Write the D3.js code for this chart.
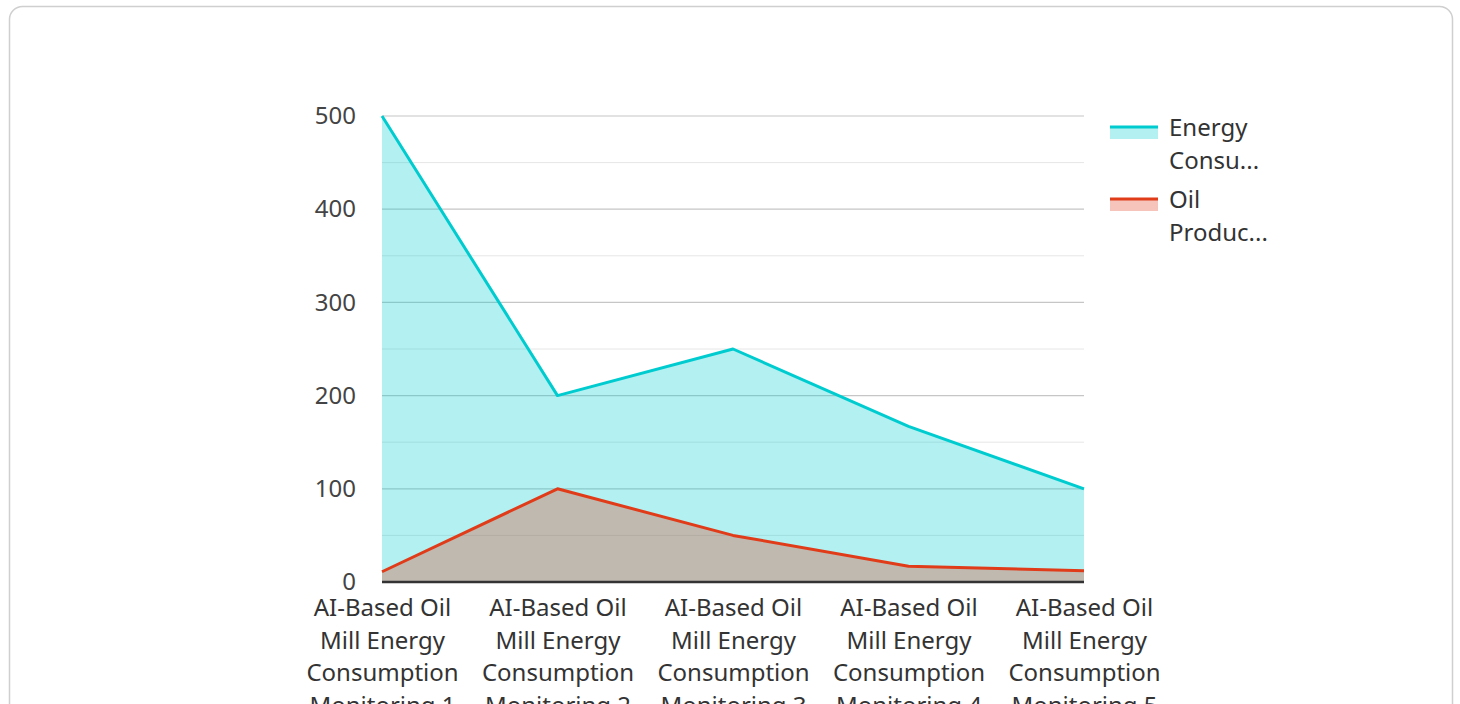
<!DOCTYPE html>
<html>
<head>
<meta charset="utf-8">
<script src="https://cdn.jsdelivr.net/npm/d3@7"></script>
<style>
  html, body { margin: 0; padding: 0; background: #fff; }
  body { width: 1460px; height: 704px; overflow: hidden; }
  svg { display: block; font-family: "Noto Sans", "Open Sans", sans-serif; }
</style>
</head>
<body>
<svg id="chart" width="1460" height="704"></svg>
<script>
// Monitoring runs along the x axis
const categories = [
  "AI-Based Oil Mill Energy Consumption Monitoring 1",
  "AI-Based Oil Mill Energy Consumption Monitoring 2",
  "AI-Based Oil Mill Energy Consumption Monitoring 3",
  "AI-Based Oil Mill Energy Consumption Monitoring 4",
  "AI-Based Oil Mill Energy Consumption Monitoring 5"
];
const seriesNames = ["Energy Consumption", "Oil Production"];
const energyConsumption = [500, 200, 250, 167, 100];
const oilProduction = [11, 100, 50, 17, 12];
const yTicks = [0, 100, 200, 300, 400, 500];
const colors = ["#00ccd0", "#e03c1a"];

const FONT = 24;
const svg = d3.select("#chart");

// card outline
svg.append("rect")
  .attr("x", 9.5).attr("y", 6.5)
  .attr("width", 1443).attr("height", 740)
  .attr("rx", 13).attr("ry", 13)
  .attr("fill", "#fff").attr("stroke", "#cfcfcf").attr("stroke-width", 1.5);

const plot = { left: 382, right: 1084, top: 116, bottom: 582 };

const x = d3.scalePoint().domain(categories).range([plot.left, plot.right]);
const y = d3.scaleLinear().domain([0, 500]).range([plot.bottom, plot.top]);

// gridlines: minor every 50, major every 100
const minor = d3.range(50, 500, 100);
svg.append("g").selectAll("line").data(minor).join("line")
  .attr("x1", plot.left).attr("x2", plot.right)
  .attr("y1", d => y(d)).attr("y2", d => y(d))
  .attr("stroke", "#e6e6e6").attr("stroke-width", 1);
svg.append("g").selectAll("line").data(yTicks.filter(d => d > 0)).join("line")
  .attr("x1", plot.left).attr("x2", plot.right)
  .attr("y1", d => y(d)).attr("y2", d => y(d))
  .attr("stroke", "#c6c6c6").attr("stroke-width", 1.2);

// y axis labels
const yAxis = d3.axisLeft(y).tickValues(yTicks).tickSize(0).tickPadding(0);
const yg = svg.append("g").attr("transform", `translate(${plot.left - 26},0)`).call(yAxis);
yg.select(".domain").remove();
yg.selectAll("text")
  .attr("font-size", FONT).attr("fill", "#444")
  .attr("font-family", "'Noto Sans', sans-serif");

// areas and lines
const series = [energyConsumption, oilProduction];
const area = d3.area()
  .x((d, i) => x(categories[i]))
  .y0(y(0))
  .y1(d => y(d));
const line = d3.line()
  .x((d, i) => x(categories[i]))
  .y(d => y(d));

series.forEach((vals, k) => {
  svg.append("path").datum(vals)
    .attr("d", area)
    .attr("fill", colors[k]).attr("fill-opacity", 0.3);
});
series.forEach((vals, k) => {
  svg.append("path").datum(vals)
    .attr("d", line)
    .attr("fill", "none")
    .attr("stroke", colors[k]).attr("stroke-width", 3)
    .attr("stroke-linejoin", "round");
});

// x axis
const xAxis = d3.axisBottom(x).tickSize(0).tickPadding(0);
const xg = svg.append("g").attr("transform", `translate(0,${plot.bottom})`).call(xAxis);
xg.select(".domain")
  .attr("stroke", "#333").attr("stroke-width", 2.5)
  .attr("d", `M${plot.left},0H${plot.right}`);

// wrap category labels into lines no wider than maxW
function wrapWords(text, maxW, measure) {
  const words = text.split(" ");
  const lines = [];
  let cur = "";
  words.forEach(w => {
    const t = cur ? cur + " " + w : w;
    if (cur && measure(t) > maxW) { lines.push(cur); cur = w; }
    else cur = t;
  });
  if (cur) lines.push(cur);
  return lines;
}
const measurer = svg.append("text").attr("font-size", FONT).attr("visibility", "hidden");
const measure = s => { measurer.text(s); return measurer.node().getComputedTextLength(); };

xg.selectAll(".tick text").each(function(d) {
  const t = d3.select(this);
  t.text(null)
    .attr("font-size", FONT).attr("fill", "#333")
    .attr("font-family", "'Noto Sans', sans-serif")
    .attr("text-anchor", "middle").attr("dy", null).attr("y", 0);
  const lines = wrapWords(d, 165, measure);
  lines.forEach((ln, i) => {
    t.append("tspan").attr("x", 0).attr("y", 34 + i * 32.5).text(ln);
  });
});

// legend
const legend = svg.append("g").attr("transform", "translate(1110,127)");
function legendLines(name, maxW) {
  const words = name.split(" ");
  return words.map(w => {
    if (measure(w) <= maxW) return w;
    let s = w;
    while (s.length > 1 && measure(s + "...") > maxW) s = s.slice(0, -1);
    return s + "...";
  });
}
seriesNames.forEach((name, k) => {
  const g = legend.append("g").attr("transform", `translate(0,${k * 72})`);
  g.append("rect").attr("x", 0).attr("y", 0).attr("width", 48).attr("height", 12)
    .attr("fill", colors[k]).attr("fill-opacity", 0.3);
  g.append("line").attr("x1", 0).attr("x2", 48).attr("y1", 0).attr("y2", 0)
    .attr("stroke", colors[k]).attr("stroke-width", 3);
  const t = g.append("text").attr("font-size", FONT).attr("fill", "#333");
  legendLines(name, 105).forEach((ln, i) => {
    t.append("tspan").attr("x", 59).attr("y", 9 + i * 33).text(ln);
  });
});
measurer.remove();
</script>
</body>
</html>
